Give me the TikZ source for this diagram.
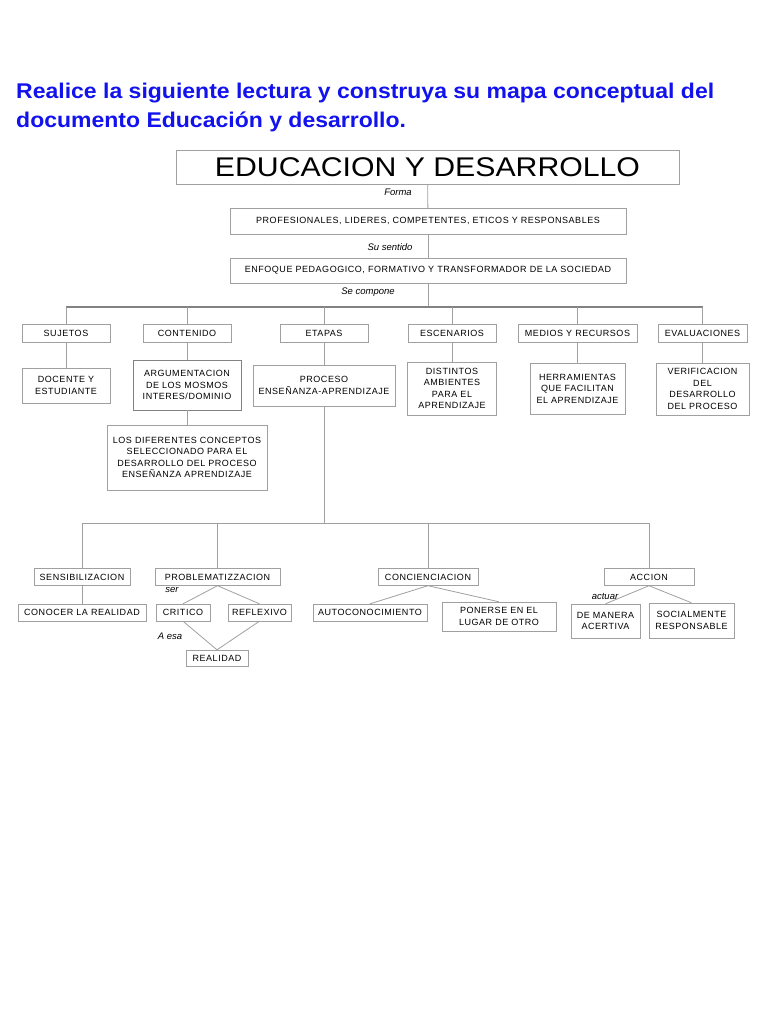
\documentclass[tikz,border=0pt]{standalone}
\usepackage{fontspec}
\setmainfont{Liberation Sans}
\newfontfamily\headfont[FakeStretch=1.08]{Liberation Sans}
\newfontfamily\titlefont[FakeStretch=1.12]{Liberation Sans}
\newfontfamily\boxfont[LetterSpace=6]{Liberation Sans}
\usetikzlibrary{positioning}
\definecolor{headblue}{RGB}{18,18,238}
\definecolor{boxgray}{RGB}{160,160,160}
\definecolor{busgray}{RGB}{130,130,130}
\tikzset{
   concept/.style={ rectangle, draw=boxgray, fill=white, align=center, inner sep=1pt, font=\boxfont\fontsize{9}{11.5}\selectfont},
   strong concept/.style={ concept, draw=busgray, semithick},
   tag/.style={ inner sep=0pt, font=\itshape\fontsize{9.5}{10}\selectfont},
   link/.style={ draw=boxgray, line width=0.8pt},
   bus/.style={ draw=busgray, line width=1.2pt}
}

\begin{document}
\begin{tikzpicture}[x=1pt,y=-1pt]
  \useasboundingbox[fill=white] (0,0) rectangle (768,1024);

  \node[anchor=base west, inner sep=0pt, text=headblue, font=\headfont\bfseries\fontsize{21.3}{22}\selectfont] at (16,99) (heading one) {Realice la siguiente lectura y construya su mapa conceptual del};
  \node[anchor=base west, inner sep=0pt, text=headblue, font=\headfont\bfseries\fontsize{21.3}{22}\selectfont] at (16,127.5) (heading two) {documento Educación y desarrollo.};

  \node[concept, minimum width=503, minimum height=34, font=\titlefont\fontsize{27}{30}\selectfont] at (427.5,167) (title) {EDUCACION Y DESARROLLO};
  \node[tag] at (398,192) (forma) {Forma};
  \node[concept, minimum width=396, minimum height=26] at (428,221) (perfil) {PROFESIONALES, LIDERES, COMPETENTES, ETICOS Y RESPONSABLES};
  \node[tag] at (390,247) (sentido) {Su sentido};
  \node[concept, minimum width=396, minimum height=25] at (428,270.5) (enfoque) {ENFOQUE PEDAGOGICO, FORMATIVO Y TRANSFORMADOR DE LA SOCIEDAD};
  \node[tag] at (368,292) (compone) {Se compone};
  \coordinate (top bus) at (428,307);

  % componentes
  \node[concept, minimum width=88, minimum height=18]  at (66,333)    (sujetos)      {SUJETOS};
  \node[concept, minimum width=88, minimum height=18]  at (187,333)   (contenido)    {CONTENIDO};
  \node[concept, minimum width=88, minimum height=18]  at (324,333)   (etapas)       {ETAPAS};
  \node[concept, minimum width=88, minimum height=18]  at (452,333)   (escenarios)   {ESCENARIOS};
  \node[concept, minimum width=119, minimum height=18] at (577.5,333) (medios)       {MEDIOS Y RECURSOS};
  \node[concept, minimum width=89, minimum height=18]  at (702.5,333) (evaluaciones) {EVALUACIONES};

  \node[concept, minimum width=88, minimum height=35]   at (66,385.5)  (docente)       {DOCENTE Y\\ESTUDIANTE};
  \node[strong concept, minimum width=108, minimum height=50] at (187,385) (argumentacion) {ARGUMENTACION\\DE LOS MOSMOS\\INTERES/DOMINIO};
  \node[concept, minimum width=142, minimum height=41]  at (324,385.5)  (proceso)       {PROCESO\\ENSEÑANZA-APRENDIZAJE};
  \node[concept, minimum width=89, minimum height=53]   at (452,388.5)  (ambientes)     {DISTINTOS\\AMBIENTES\\PARA EL\\APRENDIZAJE};
  \node[concept, minimum width=95, minimum height=51]   at (577.5,388.5) (herramientas) {HERRAMIENTAS\\QUE FACILITAN\\EL APRENDIZAJE};
  \node[concept, minimum width=93, minimum height=52]   at (702.5,389)  (verificacion)  {VERIFICACION\\DEL\\DESARROLLO\\DEL PROCESO};
  \node[concept, minimum width=160, minimum height=65]  at (187,457.5)  (conceptos)     {LOS DIFERENTES CONCEPTOS\\SELECCIONADO PARA EL\\DESARROLLO DEL PROCESO\\ENSEÑANZA APRENDIZAJE};
  \coordinate (low bus) at (324,523);

  % fases del proceso
  \node[concept, minimum width=96, minimum height=17]  at (82,577)    (sensibilizacion)   {SENSIBILIZACION};
  \node[concept, minimum width=125, minimum height=17] at (217.5,577) (problematizzacion) {PROBLEMATIZZACION};
  \node[concept, minimum width=100, minimum height=17] at (428,577)   (concienciacion)    {CONCIENCIACION};
  \node[concept, minimum width=90, minimum height=17]  at (649,577)   (accion)            {ACCION};

  \node[concept, minimum width=128, minimum height=17] at (82,612.5)    (conocer)   {CONOCER LA REALIDAD};
  \node[concept, minimum width=54, minimum height=17]  at (183,612.5)   (critico)   {CRITICO};
  \node[concept, minimum width=63, minimum height=17]  at (259.5,612.5) (reflexivo) {REFLEXIVO};
  \node[concept, minimum width=62, minimum height=16]  at (217,658)     (realidad)  {REALIDAD};
  \node[concept, minimum width=114, minimum height=17] at (370,612.5)   (autoconocimiento) {AUTOCONOCIMIENTO};
  \node[concept, minimum width=114, minimum height=29] at (499,616.5)   (otro)      {PONERSE EN EL\\LUGAR DE OTRO};
  \node[concept, minimum width=69, minimum height=34]  at (605.5,621)   (manera)    {DE MANERA\\ACERTIVA};
  \node[concept, minimum width=85, minimum height=35]  at (691.5,620.5) (socialmente) {SOCIALMENTE\\RESPONSABLE};

  \node[tag] at (172,590) (ser)    {ser};
  \node[tag] at (170,636) (a esa)  {A esa};
  \node[tag] at (605,596) (actuar) {actuar};

  \draw[link] (title) -- (perfil);
  \draw[link] (perfil) -- (enfoque);
  \draw[link] (enfoque) -- (top bus);
  \draw[bus] (sujetos |- top bus) -- (evaluaciones |- top bus);
  \foreach \n in {sujetos,contenido,etapas,escenarios,medios,evaluaciones}
    \draw[link] (\n |- top bus) -- (\n);

  \foreach \a/\b in {sujetos/docente,contenido/argumentacion,etapas/proceso,escenarios/ambientes,medios/herramientas,evaluaciones/verificacion,argumentacion/conceptos}
    \draw[link] (\a) -- (\b);

  \draw[link] (proceso) -- (low bus);
  \draw[link] (sensibilizacion |- low bus) -- (accion |- low bus);
  \foreach \n in {sensibilizacion,problematizzacion,concienciacion,accion}
    \draw[link] (\n |- low bus) -- (\n);

  \draw[link] (sensibilizacion) -- (conocer);
  \draw[link] (problematizzacion.south) -- (critico.north);
  \draw[link] (problematizzacion.south) -- (reflexivo.north);
  \draw[link] (critico.south) -- (realidad.north);
  \draw[link] (reflexivo.south) -- (realidad.north);
  \draw[link] (concienciacion.south) -- (autoconocimiento.north);
  \draw[link] (concienciacion.south) -- (otro.north);
  \draw[link] (accion.south) -- (manera.north);
  \draw[link] (accion.south) -- (socialmente.north);

\end{tikzpicture}
\end{document}
